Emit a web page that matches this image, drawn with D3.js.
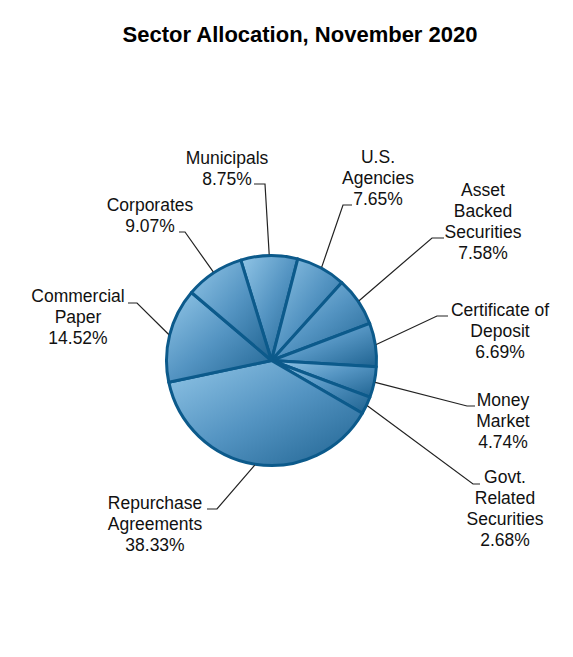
<!DOCTYPE html>
<html lang="en">
<head>
<meta charset="UTF-8">
<script src="https://d3js.org/d3.v7.min.js"></script>
<style>
  body { margin: 0; padding: 0; background: #fff; font-family: "Liberation Sans", Arial, sans-serif; }
  svg { display: block; }
</style>
</head>
<body>
<svg id="chart" width="573" height="657"></svg>
<script>
// data, clockwise from the top
const sectors = ["Municipals", "U.S. Agencies", "Asset Backed Securities", "Certificate of Deposit",
                 "Money Market", "Govt. Related Securities", "Repurchase Agreements", "Commercial Paper", "Corporates"];
const shares = [8.75, 7.65, 7.58, 6.69, 4.74, 2.68, 38.33, 14.52, 9.07];
const labelLines = [
  ["Municipals"], ["U.S.", "Agencies"], ["Asset", "Backed", "Securities"], ["Certificate of", "Deposit"],
  ["Money", "Market"], ["Govt.", "Related", "Securities"], ["Repurchase", "Agreements"], ["Commercial", "Paper"], ["Corporates"]
];

// label layout: text centre x, first baseline y, elbow of leader, end of leader's flat part
const labelX   = [227, 378, 483, 500, 503, 505, 155, 78, 150];
const labelY   = [164, 163, 196, 316, 406, 483, 509, 302, 211];
const elbows   = [[265, 184], [343, 205], [432, 238], [437, 316], [467, 406], [473, 484], [217, 509], [137, 303], [185, 232]];
const flatEnds = [254, 352, 444, 448, 475, 480, 207, 128, 179];

const svg = d3.select("#chart");
const cx = 271.5, cy = 360.5, r = 105;
const lineH = 21;

svg.append("text")
  .attr("x", 300).attr("y", 42)
  .attr("text-anchor", "middle")
  .style("font-size", "22px").style("font-weight", "bold")
  .attr("fill", "#000")
  .text("Sector Allocation, November 2020");

const defs = svg.append("defs");
const grad = defs.append("linearGradient")
  .attr("id", "sliceGrad")
  .attr("x1", 0).attr("y1", 0).attr("x2", 1).attr("y2", 1);
grad.append("stop").attr("offset", "0%").attr("stop-color", "#92c6e7");
grad.append("stop").attr("offset", "50%").attr("stop-color", "#5494c2");
grad.append("stop").attr("offset", "100%").attr("stop-color", "#1f6391");

const startA = -17 * Math.PI / 180;
const pie = d3.pie().sort(null)
  .startAngle(startA).endAngle(startA + 2 * Math.PI)
  .value(d => d);
const arcs = pie(shares);
const arc = d3.arc().innerRadius(0).outerRadius(r);

const g = svg.append("g").attr("transform", `translate(${cx},${cy})`);

g.selectAll("path.slice")
  .data(arcs)
  .enter().append("path")
  .attr("class", "slice")
  .attr("d", arc)
  .attr("fill", "url(#sliceGrad)")
  .attr("stroke", "#0c5a8b")
  .attr("stroke-width", 3)
  .attr("stroke-linejoin", "round");

// leader lines from the middle of each slice's rim
const leaders = arcs.map((a, i) => {
  const mid = (a.startAngle + a.endAngle) / 2;
  const px = cx + (r + 1) * Math.sin(mid), py = cy - (r + 1) * Math.cos(mid);
  return [[px, py], elbows[i], [flatEnds[i], elbows[i][1]]];
});

svg.selectAll("path.leader")
  .data(leaders)
  .enter().append("path")
  .attr("class", "leader")
  .attr("d", d3.line())
  .attr("fill", "none")
  .attr("stroke", "#222")
  .attr("stroke-width", 1.2);

const labels = svg.selectAll("text.lbl")
  .data(sectors)
  .enter().append("text")
  .attr("class", "lbl")
  .attr("text-anchor", "middle")
  .style("font-size", "17.5px")
  .attr("fill", "#111");

labels.each(function (d, i) {
  const t = d3.select(this);
  const lines = labelLines[i].concat([shares[i].toFixed(2) + "%"]);
  lines.forEach((s, k) => {
    t.append("tspan").attr("x", labelX[i]).attr("y", labelY[i] + k * lineH).text(s);
  });
});
</script>
</body>
</html>
